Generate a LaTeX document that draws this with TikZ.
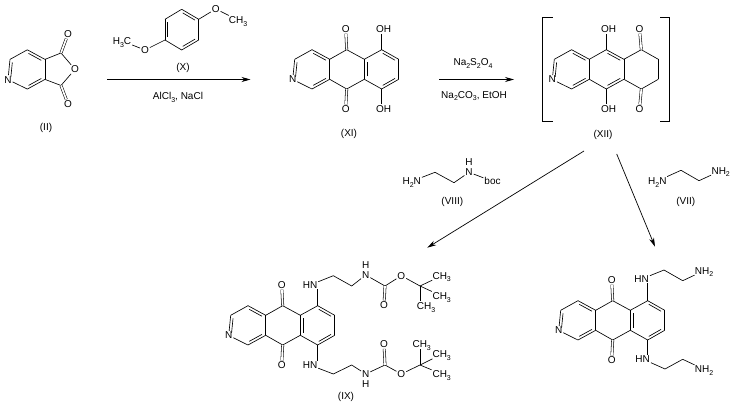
\documentclass[tikz,border=0pt]{standalone}
\usepackage{fontspec}
\setmainfont{Liberation Sans}
\usetikzlibrary{arrows.meta,positioning,calc}

% subscript that does not change the height of a label
\newcommand{\lo}[1]{\smash{\raisebox{-2.6pt}{\scriptsize #1}}}
% inner line of a ring double bond, rings are walked clockwise
\newcommand{\inbond}[2]{\draw[bond] ($(#1)!0.14!(#2)!2.6pt!-90:(#2)$) -- ($(#2)!0.14!(#1)!2.6pt!90:(#1)$);}

\newcommand{\pyridine}[3]{%
  \begin{scope}[shift={(#2,#3)},name prefix=#1-]
    \coordinate (ul) at (0,9.6);
    \coordinate (t) at (17.3,0);
    \coordinate (ur) at (35,9.6);
    \coordinate (lr) at (35,29.6);
    \coordinate (b) at (17.3,39.3);
    \node[atom] (N) at (-2,29.8) {N};
    \foreach \a/\b in {N/ul,ul/t,t/ur,ur/lr,lr/b,b/N}
      \draw[bond] (\a) -- (\b);
    \inbond{N}{ul}
    \inbond{t}{ur}
    \inbond{lr}{b}
  \end{scope}}

\newcommand{\skeleton}[3]{%
  \pyridine{#1}{#2}{#3}
  \begin{scope}[shift={(#2,#3)},name prefix=#1-]
    \coordinate (mt) at (52,0);
    \coordinate (mur) at (69.6,9.6);
    \coordinate (mlr) at (69.6,29.6);
    \coordinate (mb) at (52,39.3);
    \coordinate (rt) at (87,0);
    \coordinate (rur) at (104,9.6);
    \coordinate (rlr) at (104,29.6);
    \coordinate (rb) at (87,39.3);
    \foreach \a/\b in {ur/mt,mt/mur,mur/mlr,mlr/mb,mb/lr,mur/rt,rt/rur,rur/rlr,rlr/rb,rb/mlr}
      \draw[bond] (\a) -- (\b);
  \end{scope}}

\newcommand{\quinone}[3]{%
  \skeleton{#1}{#2}{#3}
  \begin{scope}[shift={(#2,#3)},name prefix=#1-]
    \node[atom] (o1) at (51,-20.6) {O};
    \node[atom] (o2) at (51,59.4) {O};
    \draw[dbl] (mt) -- (o1);
    \draw[dbl] (mb) -- (o2);
    \inbond{rt}{rur}
    \inbond{rlr}{rb}
    \inbond{mlr}{mur}
  \end{scope}}

\begin{document}
\begin{tikzpicture}[
    x=1pt, y=-1pt,
    >={Stealth[length=9pt,width=5pt]},
    bond/.style={line width=.65pt},
    dbl/.style={double, double distance=1.7pt, line width=.55pt},
    atom/.style={inner sep=.8pt},
    tag/.style={inner sep=1pt},
    reaction/.style={->, line width=.7pt}
]
    \useasboundingbox (0,0) rectangle (735,403);

    % --- (II) ---
    \pyridine{ii}{10}{49.8}
    \coordinate (ii-c1) at (61,53);
    \coordinate (ii-c2) at (61,85.5);
    \node[atom] (ii-o) at (75,69.3) {O};
    \node[atom] (ii-o1) at (68,34) {O};
    \node[atom] (ii-o2) at (68,104) {O};
    \foreach \a/\b in {ii-ur/ii-c1,ii-c1/ii-o,ii-o/ii-c2,ii-c2/ii-lr}
      \draw[bond] (\a) -- (\b);
    \draw[dbl] (ii-c1) -- (ii-o1);
    \draw[dbl] (ii-c2) -- (ii-o2);
    \node[tag] (ii-tag) at (46,128) {(II)};

    % --- (X) ---
    \coordinate (x-ul) at (165,19.3);
    \coordinate (x-t) at (181.7,9.3);
    \coordinate (x-ur) at (198.7,19.3);
    \coordinate (x-lr) at (198.7,40);
    \coordinate (x-b) at (181.7,50);
    \coordinate (x-ll) at (165,40);
    \node[atom] (x-o1) at (215.7,9) {O};
    \node[atom] (x-o2) at (145,50) {O};
    \node[atom] (x-me1) at (238,20) {CH\lo{3}};
    \node[atom] (x-me2) at (122,41) {H\lo{3}C};
    \foreach \a/\b in {x-ul/x-t,x-t/x-ur,x-ur/x-lr,x-lr/x-b,x-b/x-ll,x-ll/x-ul,x-ur/x-o1,x-o1/x-me1,x-ll/x-o2,x-o2/x-me2}
      \draw[bond] (\a) -- (\b);
    \inbond{x-ll}{x-ul}
    \inbond{x-t}{x-ur}
    \inbond{x-lr}{x-b}
    \node[tag] (x-tag) at (183,68) {(X)};

    % first step
    \coordinate (s1a) at (107,79.5);
    \coordinate (s1b) at (250.5,79.5);
    \draw[reaction] (s1a) -- (s1b);
    \node[tag] (s1-reag) at (178,97) {AlCl\lo{3}, NaCl};

    % --- (XI) ---
    \quinone{xi}{294.7}{49.7}
    \node[atom] (xi-oh1) at (383.5,29) {OH};
    \node[atom] (xi-oh2) at (383.5,109) {OH};
    \draw[bond] (xi-rt) -- (xi-rt |- xi-oh1.south);
    \draw[bond] (xi-rb) -- (xi-rb |- xi-oh2.north);
    \node[tag] (xi-tag) at (349,134) {(XI)};

    % second step
    \coordinate (s2a) at (439,79.5);
    \coordinate (s2b) at (514,79.5);
    \draw[reaction] (s2a) -- (s2b);
    \node[tag] (s2-up) at (473,62) {Na\lo{2}S\lo{2}O\lo{4}};
    \node[tag] (s2-down) at (474,95.5) {Na\lo{2}CO\lo{3}, EtOH};

    % --- (XII) ---
    \skeleton{xii}{554.3}{49.7}
    \inbond{xii-mt}{xii-mur}
    \inbond{xii-mlr}{xii-mb}
    \node[atom] (xii-oh1) at (608.5,29) {OH};
    \node[atom] (xii-oh2) at (608.5,109) {OH};
    \node[atom] (xii-o1) at (639.5,29) {O};
    \node[atom] (xii-o2) at (639.5,109) {O};
    \draw[bond] (xii-mt) -- (xii-mt |- xii-oh1.south);
    \draw[bond] (xii-mb) -- (xii-mb |- xii-oh2.north);
    \draw[dbl] (xii-rt) -- (xii-o1);
    \draw[dbl] (xii-rb) -- (xii-o2);
    \node[tag] (xii-tag) at (603,135) {(XII)};
    % brackets
    \draw[bond] (552.7,17.3) -- (542.3,17.3) -- (542.3,121.3) -- (552.7,121.3);
    \draw[bond] (660,17.3) -- (669.3,17.3) -- (669.3,121.3) -- (660,121.3);

    % the two last steps
    \coordinate (s3a) at (584,151);
    \coordinate (s3b) at (427.3,247.7);
    \coordinate (s4a) at (616.7,154);
    \coordinate (s4b) at (655,246.7);
    \draw[reaction] (s3a) -- (s3b);
    \draw[reaction] (s4a) -- (s4b);

    % --- (VIII) ---
    \node[atom] (viii-n1) at (411.7,181.3) {H\lo{2}N};
    \coordinate (viii-c1) at (435,172.3);
    \coordinate (viii-c2) at (454,182.7);
    \node[atom] (viii-n2) at (469,172.3) {N};
    \node[atom,above=1pt of viii-n2] (viii-h) {H};
    \node[atom] (viii-boc) at (492.5,181.3) {boc};
    \foreach \a/\b in {viii-n1/viii-c1,viii-c1/viii-c2,viii-c2/viii-n2,viii-n2/viii-boc}
      \draw[bond] (\a) -- (\b);
    \node[tag] (viii-tag) at (452.3,202.3) {(VIII)};

    % --- (VII) ---
    \node[atom] (vii-n1) at (657.3,181) {H\lo{2}N};
    \coordinate (vii-c1) at (681,170.3);
    \coordinate (vii-c2) at (699,180.7);
    \node[atom] (vii-n2) at (720.7,170.7) {NH\lo{2}};
    \foreach \a/\b in {vii-n1/vii-c1,vii-c1/vii-c2,vii-c2/vii-n2}
      \draw[bond] (\a) -- (\b);
    \node[tag] (vii-tag) at (685.7,201.7) {(VII)};

    % --- (IX) ---
    \quinone{ix}{230.7}{305.7}
    % upper chain
    \node[atom] (ix-n1) at (310,285) {HN};
    \coordinate (ix-c1) at (333.3,275.7);
    \coordinate (ix-c2) at (351.7,286);
    \node[atom] (ix-n2) at (365.7,275) {N};
    \node[atom,above=1pt of ix-n2] (ix-h2) {H};
    \coordinate (ix-c3) at (385,286);
    \node[atom] (ix-o3) at (384,305) {O};
    \node[atom] (ix-o4) at (401.3,275.7) {O};
    \coordinate (ix-c4) at (420,286);
    \node[atom] (ix-m1) at (441.7,275.7) {CH\lo{3}};
    \node[atom] (ix-m2) at (441.7,296) {CH\lo{3}};
    \node[atom] (ix-m3) at (426,306) {CH\lo{3}};
    \draw[bond] (ix-rt) -- (ix-rt |- ix-n1.south);
    \foreach \a/\b in {ix-n1/ix-c1,ix-c1/ix-c2,ix-c2/ix-n2,ix-n2/ix-c3,ix-c3/ix-o4,ix-o4/ix-c4,ix-c4/ix-m1,ix-c4/ix-m2}
      \draw[bond] (\a) -- (\b);
    \draw[bond] (ix-c4) -- (ix-c4 |- ix-m3.north);
    \draw[dbl] (ix-c3) -- (ix-o3);
    % lower chain
    \node[atom] (ix-n3) at (310,365) {HN};
    \coordinate (ix-c5) at (333.3,374);
    \coordinate (ix-c6) at (351.7,365);
    \node[atom] (ix-n4) at (365.7,374) {N};
    \node[atom,below=1pt of ix-n4] (ix-h4) {H};
    \coordinate (ix-c7) at (385,365);
    \node[atom] (ix-o5) at (384,344.3) {O};
    \node[atom] (ix-o6) at (401.3,374) {O};
    \coordinate (ix-c8) at (420,365);
    \node[atom] (ix-m4) at (421.7,344.3) {CH\lo{3}};
    \node[atom] (ix-m5) at (441.7,354.3) {CH\lo{3}};
    \node[atom] (ix-m6) at (441.7,374) {CH\lo{3}};
    \draw[bond] (ix-rb) -- (ix-rb |- ix-n3.north);
    \foreach \a/\b in {ix-n3/ix-c5,ix-c5/ix-c6,ix-c6/ix-n4,ix-n4/ix-c7,ix-c7/ix-o6,ix-o6/ix-c8,ix-c8/ix-m5,ix-c8/ix-m6}
      \draw[bond] (\a) -- (\b);
    \draw[bond] (ix-c8) -- (ix-c8 |- ix-m4.south);
    \draw[dbl] (ix-c7) -- (ix-o5);
    \node[tag] (ix-tag) at (346,397) {(IX)};

    % --- last product ---
    \quinone{p}{560.7}{300.7}
    \node[atom] (p-n1) at (641.7,279) {HN};
    \coordinate (p-c1) at (664,270);
    \coordinate (p-c2) at (682.7,280.7);
    \node[atom] (p-n2) at (704,270.7) {NH\lo{2}};
    \draw[bond] (p-rt) -- (p-rt |- p-n1.south);
    \foreach \a/\b in {p-n1/p-c1,p-c1/p-c2,p-c2/p-n2}
      \draw[bond] (\a) -- (\b);
    \node[atom] (p-n3) at (642.7,359) {HN};
    \coordinate (p-c3) at (665,369);
    \coordinate (p-c4) at (682.7,359.3);
    \node[atom] (p-n4) at (704,369.3) {NH\lo{2}};
    \draw[bond] (p-rb) -- (p-rb |- p-n3.north);
    \foreach \a/\b in {p-n3/p-c3,p-c3/p-c4,p-c4/p-n4}
      \draw[bond] (\a) -- (\b);
\end{tikzpicture}
\end{document}
